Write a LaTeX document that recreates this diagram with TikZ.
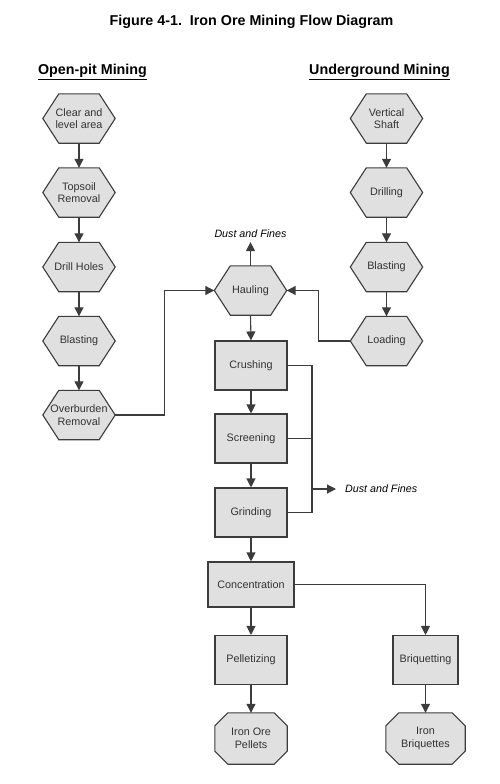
\documentclass[tikz,border=0pt]{standalone}
\usepackage{fontspec}
\setmainfont{Liberation Sans}
\usetikzlibrary{arrows.meta,backgrounds,calc}
\definecolor{boxfill}{HTML}{E0E0E0}
\definecolor{edge}{HTML}{3C3C3C}
\definecolor{txt}{HTML}{333333}
\begin{document}
\begin{tikzpicture}[x=1pt,y=-1pt,
  lbl/.style={font=\fontsize{10.8}{12.6}\selectfont, text=txt, align=center, inner sep=0pt},
  hexa/.style={lbl, minimum width=72pt, minimum height=49pt},
  octa/.style={lbl, minimum width=72pt, minimum height=51pt},
  box/.style={lbl, draw=edge, fill=boxfill, line width=1.1pt, minimum width=72pt, minimum height=49pt},
  outline/.style={draw=edge, fill=boxfill, line width=1.1pt},
  arr/.style={draw=edge, line width=1.1pt, -{Triangle[length=9pt,width=9pt]}},
  wire/.style={draw=edge, line width=1.1pt},
  head/.style={font=\bfseries\fontsize{14.3}{16}\selectfont, text=black, inner sep=0pt},
  note/.style={lbl, font=\itshape\fontsize{10.7}{12}\selectfont, text=black},
]
\path[use as bounding box] (0,0) rectangle (500,784);

% titles
\node[head] (title) at (251.5,22) {Figure 4-1.\ \ Iron Ore Mining Flow Diagram};
\node[head] (hOpen) at (92.5,72) {\underline{Open-pit Mining}};
\node[head] (hUnder) at (379.5,72) {\underline{Underground Mining}};

% open-pit column
\node[hexa] (clear) at (79,118.5) {Clear and\\level area};
\node[hexa] (topsoil) at (79,192.5) {Topsoil\\Removal};
\node[hexa] (drill) at (79,267) {Drill Holes};
\node[hexa] (blastL) at (79,341) {Blasting};
\node[hexa] (over) at (79,415) {Overburden\\Removal};

% underground column
\node[hexa] (shaft) at (386.5,118.5) {Vertical\\Shaft};
\node[hexa] (drilling) at (386.5,192.5) {Drilling};
\node[hexa] (blastR) at (386.5,267) {Blasting};
\node[hexa] (loading) at (386.5,341) {Loading};

% processing
\node[hexa] (haul) at (250.5,290.5) {Hauling};
\node[box] (crush) at (251,365.5) {Crushing};
\node[box] (screen) at (251,438.5) {Screening};
\node[box] (grind) at (251,512.5) {Grinding};
\node[box, minimum width=86pt, minimum height=45pt] (conc) at (251,584.5) {Concentration};
\node[box] (pellet) at (251,660) {Pelletizing};
\node[box, minimum width=65pt] (briq) at (425.5,660) {Briquetting};
\node[octa] (pellets) at (251,738.5) {Iron Ore\\Pellets};
\node[octa, minimum width=79pt] (ibriq) at (425.5,738.5) {Iron\\Briquettes};

\node[note, anchor=base] (dust1) at (250.5,237.8) {Dust and Fines};
\node[note, anchor=west] (dust2) at (345,489) {Dust and Fines};
\coordinate (dj) at (312,489);

% shapes behind text
\begin{scope}[on background layer]
\foreach \n in {clear,topsoil,drill,blastL,over,shaft,drilling,blastR,loading,haul}
  \path[outline] (\n.west) -- ([xshift=16pt]\n.north west) -- ([xshift=-16pt]\n.north east) -- (\n.east) -- ([xshift=-16pt]\n.south east) -- ([xshift=16pt]\n.south west) -- cycle;
\foreach \n in {pellets,ibriq}
  \path[outline] ([yshift=-13pt]\n.north west) -- ([xshift=13pt]\n.north west) -- ([xshift=-13pt]\n.north east) -- ([yshift=-13pt]\n.north east) -- ([yshift=13pt]\n.south east) -- ([xshift=-13pt]\n.south east) -- ([xshift=13pt]\n.south west) -- ([yshift=13pt]\n.south west) -- cycle;
\end{scope}

% connectors
\draw[arr] (clear.south) -- (topsoil.north);
\draw[arr] (topsoil.south) -- (drill.north);
\draw[arr] (drill.south) -- (blastL.north);
\draw[arr] (blastL.south) -- (over.north);
\draw[arr] (shaft.south) -- (drilling.north);
\draw[arr] (drilling.south) -- (blastR.north);
\draw[arr] (blastR.south) -- (loading.north);
\draw[arr] (over.east) -| ($(over.east)!0.5!(haul.west)$) |- (haul.west);
\draw[arr] (loading.west) -| ($(loading.west)!0.5!(haul.east)$) |- (haul.east);
\draw[arr] (haul.north) -- ([yshift=-4pt]dust1.south);
\draw[arr] (haul.south) -- (crush.north);
\draw[arr] (crush.south) -- (screen.north);
\draw[arr] (screen.south) -- (grind.north);
\draw[arr] (grind.south) -- (conc.north);
\draw[arr] (conc.south) -- (pellet.north);
\draw[arr] (conc.east) -| (briq.north);
\draw[arr] (pellet.south) -- (pellets.north);
\draw[arr] (briq.south) -- (ibriq.north);
\draw[wire] (crush.east) -| (dj);
\draw[wire] (grind.east) -| (dj);
\draw[wire] (screen.east) -- (screen.east -| dj);
\draw[arr] (dj) -- ([xshift=-9pt]dust2.west);
\end{tikzpicture}
\end{document}
